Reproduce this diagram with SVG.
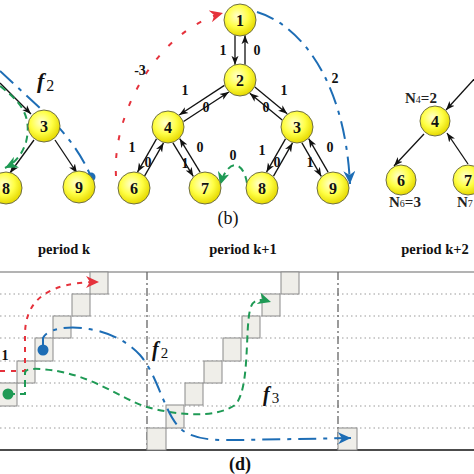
<svg xmlns="http://www.w3.org/2000/svg" width="474" height="474" viewBox="0 0 474 474">
<style>
.nd{stroke:#6f6f45;stroke-width:1;fill:url(#yg)}
.nt{font-family:"Liberation Serif",serif;font-weight:bold;font-size:16px;text-anchor:middle;fill:#111}
.el{font-family:"Liberation Serif",serif;font-weight:bold;font-size:14px;text-anchor:middle;fill:#111}
.ed{stroke:#111;stroke-width:1.3;fill:none;marker-end:url(#ab)}
.red{stroke:#e5323c;stroke-width:2;fill:none}
.blu{stroke:#1d6db5;stroke-width:2;fill:none;stroke-dasharray:18 7 4 7}
.grn{stroke:#1f9a55;stroke-width:2;fill:none;stroke-dasharray:7 5}
.sq{fill:#efeee9;stroke:#8a8a8a;stroke-width:1}
.hl{stroke:#9a9a9a;stroke-width:1;stroke-dasharray:1.5 3}
.vl{stroke:#666;stroke-width:1.3;stroke-dasharray:8 3 2 3}
.per{font-family:"Liberation Serif",serif;font-weight:bold;font-size:14.5px;text-anchor:middle;fill:#111}
.fl{font-family:"Liberation Serif",serif;font-weight:bold;font-style:italic;fill:#111}
.fs{font-family:"Liberation Serif",serif;font-weight:normal;font-style:normal;fill:#111}
.cap{font-family:"Liberation Serif",serif;font-size:18px;text-anchor:middle;fill:#111}
.nn{font-family:"Liberation Serif",serif;font-weight:bold;font-size:15px;fill:#222}
</style>
<defs>
<radialGradient id="yg" cx="0.42" cy="0.38" r="0.62">
<stop offset="0" stop-color="#ffffd0"/>
<stop offset="0.55" stop-color="#ffff45"/>
<stop offset="1" stop-color="#e6d900"/>
</radialGradient>
<marker id="ab" markerUnits="userSpaceOnUse" markerWidth="10" markerHeight="8" refX="9" refY="4" orient="auto">
<path d="M0,0.5 L9,4 L0,7.5 L2.5,4 z" fill="#111"/>
</marker>
<marker id="ar" markerUnits="userSpaceOnUse" markerWidth="14" markerHeight="12" refX="13" refY="6" orient="auto">
<path d="M0,0 L13,6 L0,12 L4,6 z" fill="#e5323c"/>
</marker>
<marker id="abl" markerUnits="userSpaceOnUse" markerWidth="14" markerHeight="12" refX="13" refY="6" orient="auto">
<path d="M0,0 L13,6 L0,12 L4,6 z" fill="#1d6db5"/>
</marker>
<marker id="ag" markerUnits="userSpaceOnUse" markerWidth="14" markerHeight="12" refX="13" refY="6" orient="auto">
<path d="M0,0 L13,6 L0,12 L4,6 z" fill="#1f9a55"/>
</marker>
</defs>
<rect width="474" height="474" fill="#fff"/>

<!-- chart grid -->
<g id="chart">
<line class="hl" x1="0" y1="294" x2="474" y2="294"/>
<line class="hl" x1="0" y1="316" x2="474" y2="316"/>
<line class="hl" x1="0" y1="338" x2="474" y2="338"/>
<line class="hl" x1="0" y1="361" x2="474" y2="361"/>
<line class="hl" x1="0" y1="383" x2="474" y2="383"/>
<line class="hl" x1="0" y1="406" x2="474" y2="406"/>
<line class="hl" x1="0" y1="428" x2="474" y2="428"/>
<line x1="0" y1="272" x2="474" y2="272" stroke="#9a9a9a" stroke-width="1.6"/>
<line x1="0" y1="450" x2="474" y2="450" stroke="#111" stroke-width="1.6"/>
<line class="vl" x1="147" y1="272" x2="147" y2="450"/>
<line class="vl" x1="338" y1="272" x2="338" y2="450"/>
<rect class="sq" x="90" y="272" width="18" height="22"/>
<rect class="sq" x="72" y="294" width="18" height="22"/>
<rect class="sq" x="53" y="316" width="18" height="22"/>
<rect class="sq" x="35" y="338" width="18" height="23"/>
<rect class="sq" x="17" y="361" width="18" height="22"/>
<rect class="sq" x="-1" y="383" width="18" height="23"/>
<rect class="sq" x="147" y="428" width="19" height="22"/>
<rect class="sq" x="166" y="405" width="18" height="23"/>
<rect class="sq" x="185" y="383" width="18" height="22"/>
<rect class="sq" x="204" y="361" width="18" height="22"/>
<rect class="sq" x="223" y="338" width="18" height="23"/>
<rect class="sq" x="242" y="316" width="18" height="22"/>
<rect class="sq" x="262" y="294" width="18" height="22"/>
<rect class="sq" x="281" y="272" width="18" height="22"/>
<rect class="sq" x="338" y="428" width="19" height="22"/>
<text class="per" x="64" y="254">period k</text>
<text class="per" x="243" y="254">period k+1</text>
<text class="per" x="435" y="254">period k+2</text>
<text class="cap" x="240" y="470" font-weight="bold">(d)</text>
<text class="fl" x="152" y="356" font-size="20">f<tspan class="fs" font-size="15" dx="2" dy="2">2</tspan></text>
<text class="fl" x="263" y="401" font-size="20">f<tspan class="fs" font-size="15" dx="2" dy="2">3</tspan></text>
<text class="el" x="5" y="360">1</text>
</g>

<!-- connectors -->
<g id="connectors">
<!-- left graph -->
<line class="ed" x1="0" y1="83" x2="31" y2="114"/>
<line class="ed" x1="34" y1="140" x2="10" y2="173"/>
<line class="ed" x1="55" y1="140" x2="77" y2="173"/>
<path class="blu" d="M0,71 L40,108 C60,127 80,150 91,177"/>
<path class="grn" d="M0,86 C18,100 33,114 26,142 C22,156 13,164 5,168" marker-end="url(#ag)"/>
<!-- middle graph -->
<line class="ed" x1="235" y1="35.2" x2="235" y2="64.8"/>
<line class="ed" x1="245" y1="64.8" x2="245" y2="35.2"/>
<line class="ed" x1="224.4" y1="85.4" x2="179.2" y2="115"/>
<line class="ed" x1="183.6" y1="121.5" x2="228.8" y2="92"/>
<line class="ed" x1="254.8" y1="87.1" x2="287.2" y2="113.7"/>
<line class="ed" x1="282.2" y1="119.9" x2="249.8" y2="93.3"/>
<line class="ed" x1="156.5" y1="138.9" x2="137.5" y2="172.1"/>
<line class="ed" x1="144.5" y1="176.1" x2="163.5" y2="142.9"/>
<line class="ed" x1="172.9" y1="142.8" x2="193.3" y2="176.4"/>
<line class="ed" x1="200.1" y1="172.2" x2="179.7" y2="138.6"/>
<line class="ed" x1="285.5" y1="138.9" x2="266.5" y2="172.1"/>
<line class="ed" x1="273.5" y1="176.1" x2="292.5" y2="142.9"/>
<line class="ed" x1="301.9" y1="142.8" x2="321.3" y2="176.4"/>
<line class="ed" x1="328.1" y1="172.2" x2="308.7" y2="138.6"/>
<path class="red" stroke-dasharray="5 13" d="M116,176 C112,110 160,30 223,13" marker-end="url(#ar)"/>
<path class="blu" stroke-dasharray="20 8 4 8" d="M257,12 C300,25 345,80 350,184" marker-end="url(#abl)"/>
<path class="grn" d="M247,183 C243,160 228,158 220,185" marker-end="url(#ag)"/>
<!-- right graph -->
<line class="ed" x1="476" y1="77" x2="446" y2="110"/>
<line class="ed" x1="424" y1="134" x2="394" y2="166"/>
<line class="ed" x1="468" y1="164" x2="447" y2="133"/>
<!-- chart curves -->
<path class="red" stroke-dasharray="5 6" d="M0,371 L25,371 L25,335 C25,302 45,282 99,282" marker-end="url(#ar)"/>
<path class="grn" d="M8,394 H25 V373 Q25,368 40,369 C90,372 120,399 147,407 C175,415 215,419 235,405 C250,390 245,330 250,310 C252,300 258,298 271,302" marker-end="url(#ag)"/>
<path class="blu" d="M43,350 V338 C50,322 110,322 140,355 C160,378 165,420 185,432 C200,441 220,440 240,440 L351,438" marker-end="url(#abl)"/>
<circle cx="91" cy="177" r="4.5" fill="#1d6db5"/>
<circle cx="43" cy="350" r="5.5" fill="#1d6db5"/>
<circle cx="8" cy="394" r="5.5" fill="#1f9a55"/>
</g>

<!-- edge labels -->
<g id="edge-labels">
<text class="el" x="223" y="55">1</text>
<text class="el" x="257" y="55">0</text>
<text class="el" x="185" y="95">1</text>
<text class="el" x="206" y="112">0</text>
<text class="el" x="266" y="112">0</text>
<text class="el" x="284" y="95">1</text>
<text class="el" x="132" y="152">1</text>
<text class="el" x="148" y="167">0</text>
<text class="el" x="185" y="168">1</text>
<text class="el" x="200" y="152">0</text>
<text class="el" x="262" y="155">1</text>
<text class="el" x="277" y="167">0</text>
<text class="el" x="310" y="167">1</text>
<text class="el" x="330" y="152">0</text>
<text class="el" x="233" y="160">0</text>
<text class="el" x="140" y="75">-3</text>
<text class="el" x="335" y="83">2</text>
<text class="fl" x="37" y="88" font-size="22">f<tspan class="fs" font-size="16" dx="2" dy="3">2</tspan></text>
<text class="cap" x="228" y="224">(b)</text>
</g>

<!-- left partial graph -->
<g id="L3"><circle class="nd" cx="44" cy="126" r="16"/><text class="nt" x="44" y="131.5">3</text></g>
<g id="L8"><circle class="nd" cx="6" cy="188" r="16"/><text class="nt" x="6" y="193.5">8</text></g>
<g id="L9"><circle class="nd" cx="79" cy="187" r="16"/><text class="nt" x="79" y="192.5">9</text></g>

<!-- middle graph -->
<g id="n1"><circle class="nd" cx="240" cy="20" r="16"/><text class="nt" x="240" y="25.5">1</text></g>
<g id="n2"><circle class="nd" cx="240" cy="80" r="16"/><text class="nt" x="240" y="85.5">2</text></g>
<g id="n4"><circle class="nd" cx="168" cy="127" r="16"/><text class="nt" x="168" y="132.5">4</text></g>
<g id="n3"><circle class="nd" cx="297" cy="127" r="16"/><text class="nt" x="297" y="132.5">3</text></g>
<g id="n6"><circle class="nd" cx="134" cy="188" r="16"/><text class="nt" x="134" y="193.5">6</text></g>
<g id="n7"><circle class="nd" cx="205" cy="188" r="16"/><text class="nt" x="205" y="193.5">7</text></g>
<g id="n8"><circle class="nd" cx="262" cy="188" r="16"/><text class="nt" x="262" y="193.5">8</text></g>
<g id="n9"><circle class="nd" cx="333" cy="188" r="16"/><text class="nt" x="333" y="193.5">9</text></g>

<!-- right partial graph -->
<g id="R4"><circle class="nd" cx="435" cy="121" r="15"/><text class="nt" x="435" y="126.5">4</text>
<text class="nn" x="405" y="103">N<tspan font-size="10" font-weight="normal">4</tspan>=2</text></g>
<g id="R6"><circle class="nd" cx="401" cy="180" r="15"/><text class="nt" x="401" y="185.5">6</text>
<text class="nn" x="389" y="207">N<tspan font-size="10" font-weight="normal">6</tspan>=3</text></g>
<g id="R7"><circle class="nd" cx="468" cy="180" r="15"/><text class="nt" x="468" y="185.5">7</text>
<text class="nn" x="457" y="207">N<tspan font-size="10" font-weight="normal">7</tspan></text></g>
</svg>
